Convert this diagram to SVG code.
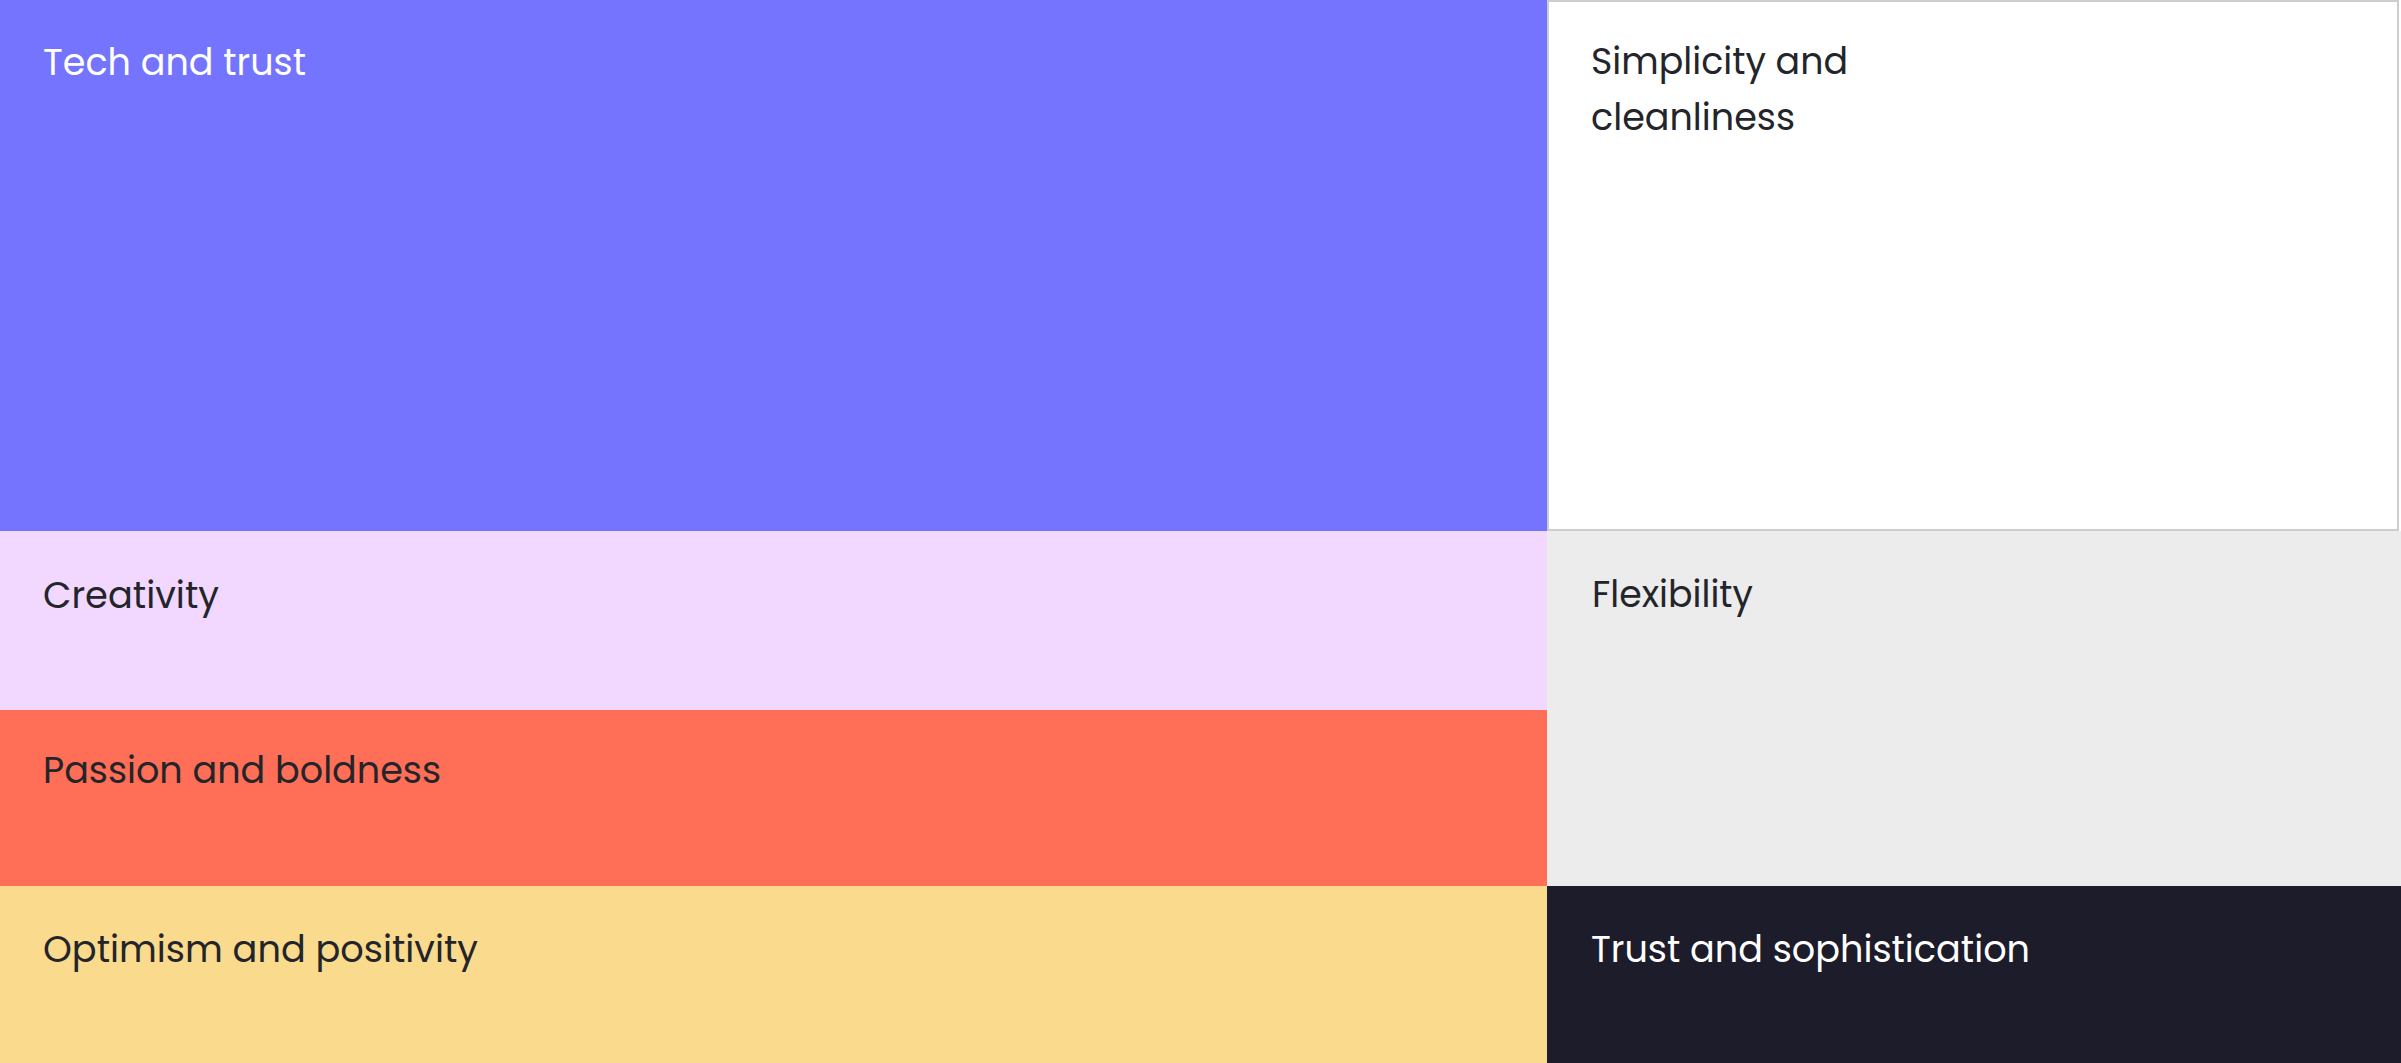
<svg xmlns="http://www.w3.org/2000/svg" width="2401" height="1063" viewBox="0 0 2401 1063">
  <style>
    .lbl { font-family: "Poppins", "Open Sans", "Liberation Sans", sans-serif; font-size: 37px; }
    .dark { fill: #23252b; }
    .light { fill: #ffffff; }
  </style>
  <g id="tech-and-trust">
    <rect x="0" y="0" width="1547" height="531" fill="#7474ff"/>
    <text class="lbl light" x="43" y="75" textLength="263" lengthAdjust="spacingAndGlyphs">Tech and trust</text>
  </g>
  <g id="simplicity-and-cleanliness">
    <rect x="1548" y="1" width="850" height="529" fill="#ffffff" stroke="#cdcdcd" stroke-width="2"/>
    <text class="lbl dark" x="1591" y="74" textLength="257" lengthAdjust="spacingAndGlyphs">Simplicity and</text>
    <text class="lbl dark" x="1591" y="130" textLength="204" lengthAdjust="spacingAndGlyphs">cleanliness</text>
  </g>
  <g id="creativity">
    <rect x="0" y="531" width="1547" height="179" fill="#f2d8ff"/>
    <text class="lbl dark" x="43" y="608" textLength="176" lengthAdjust="spacingAndGlyphs">Creativity</text>
  </g>
  <g id="passion-and-boldness">
    <rect x="0" y="710" width="1547" height="176" fill="#ff6e57"/>
    <text class="lbl dark" x="43" y="783" textLength="398" lengthAdjust="spacingAndGlyphs">Passion and boldness</text>
  </g>
  <g id="optimism-and-positivity">
    <rect x="0" y="886" width="1547" height="177" fill="#fada8c"/>
    <text class="lbl dark" x="43" y="962" textLength="435" lengthAdjust="spacingAndGlyphs">Optimism and positivity</text>
  </g>
  <g id="flexibility">
    <rect x="1547" y="531" width="854" height="355" fill="#ececec"/>
    <text class="lbl dark" x="1592" y="607" textLength="161" lengthAdjust="spacingAndGlyphs">Flexibility</text>
  </g>
  <g id="trust-and-sophistication">
    <rect x="1547" y="886" width="854" height="177" fill="#1d1c2a"/>
    <text class="lbl light" x="1591" y="962" textLength="439" lengthAdjust="spacingAndGlyphs">Trust and sophistication</text>
  </g>
  <g id="connectors"/>
</svg>
